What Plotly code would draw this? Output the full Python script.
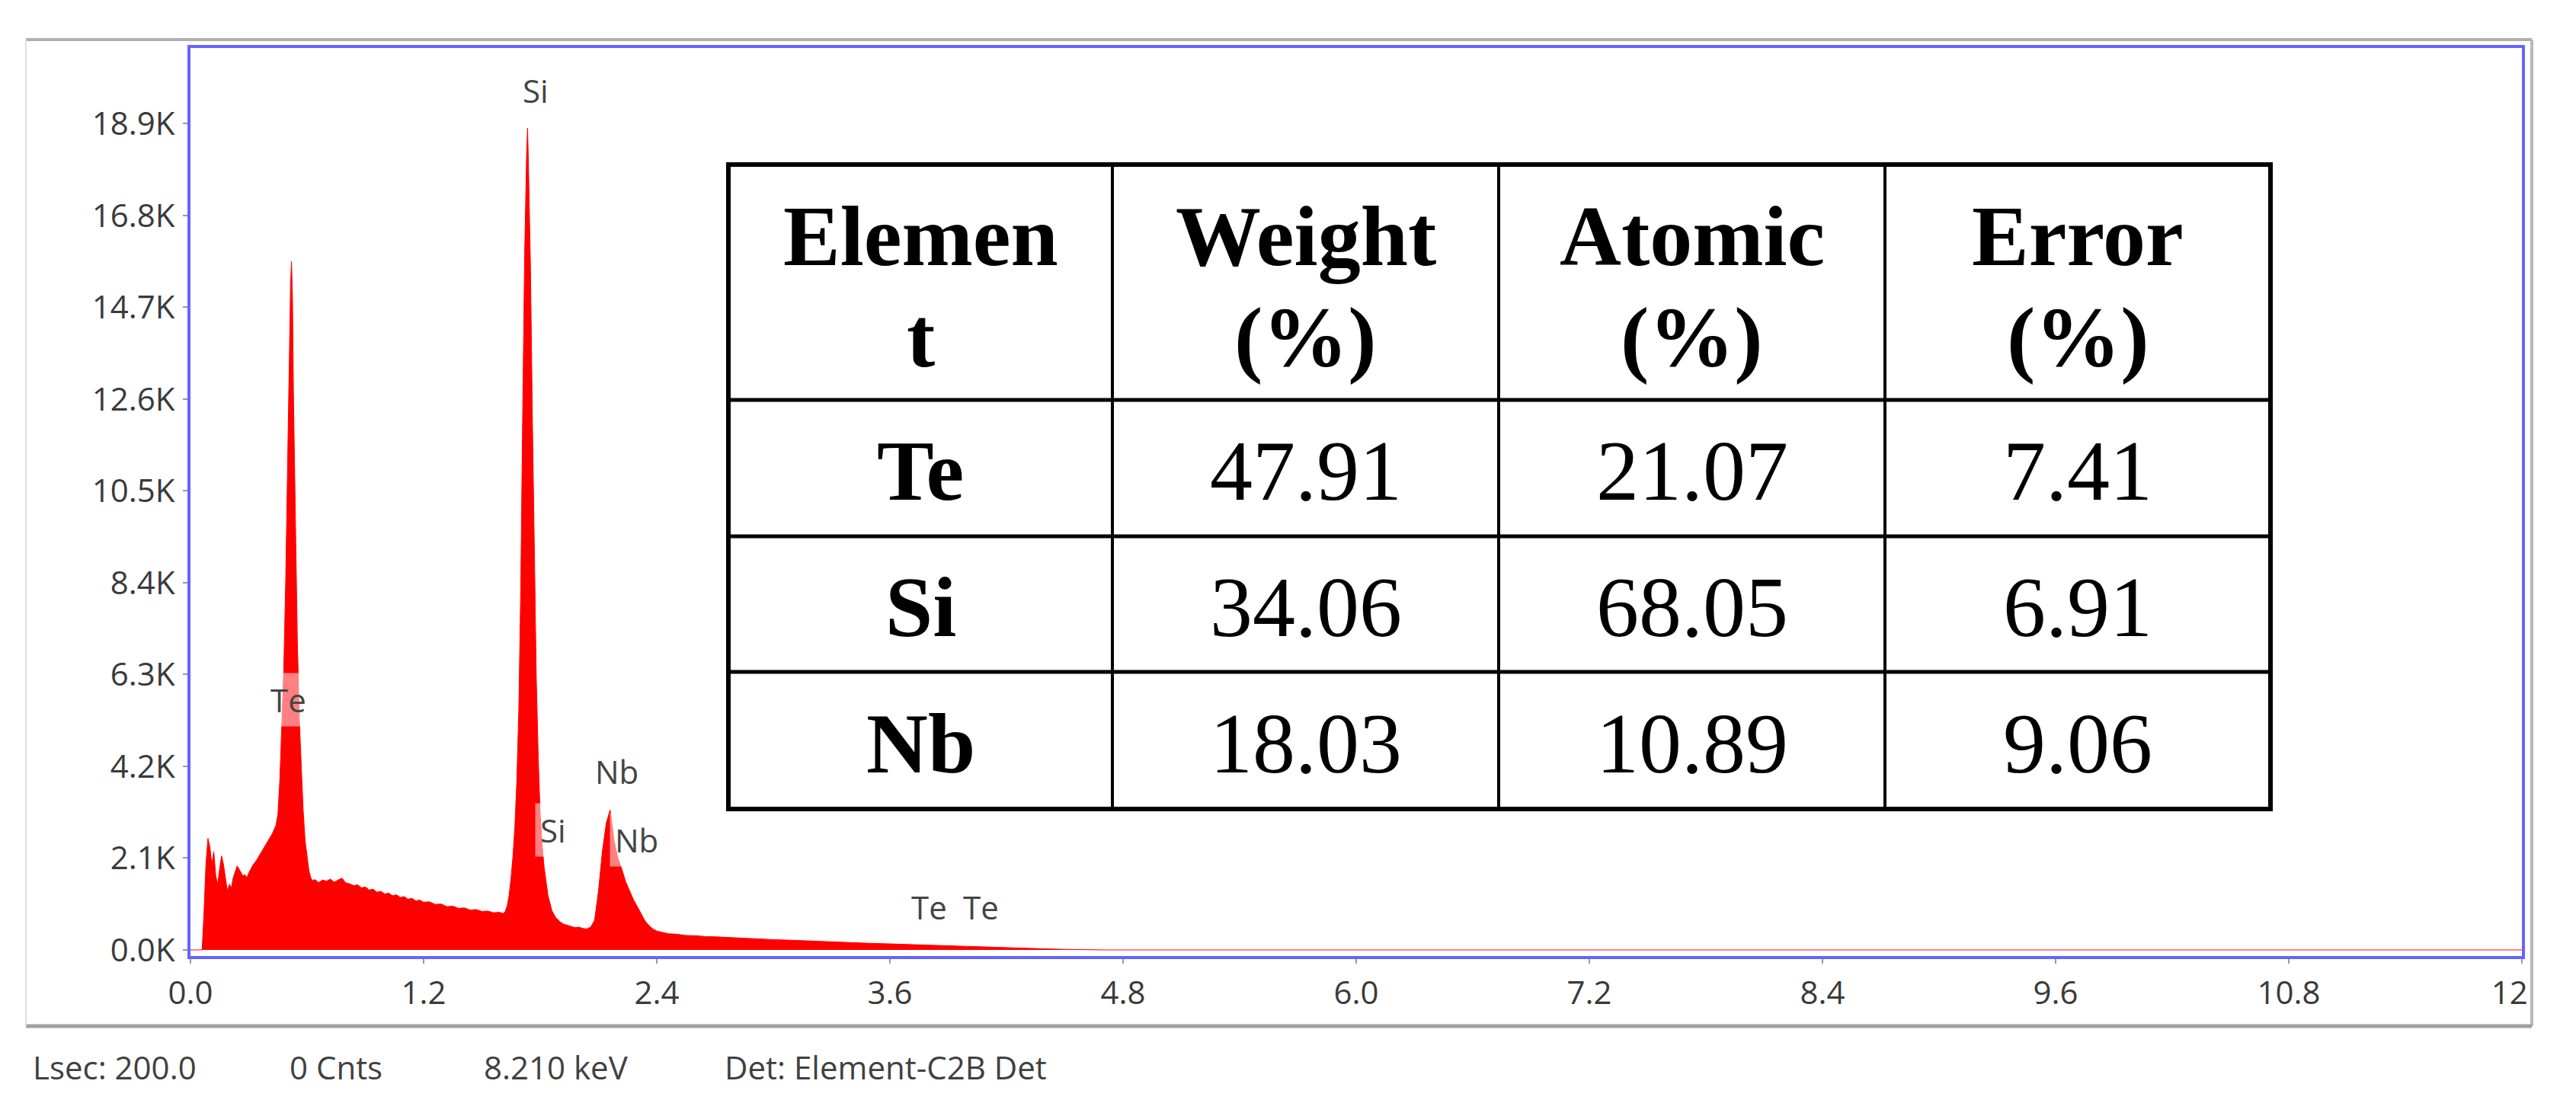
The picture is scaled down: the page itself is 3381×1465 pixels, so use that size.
import plotly.graph_objects as go

# ---------------- data ----------------
energy_kev = [0.00, 0.06, 0.07, 0.08, 0.09, 0.10, 0.11, 0.12, 0.13, 0.14, 0.15, 0.16, 0.17, 0.18, 0.19,
              0.20, 0.21, 0.22, 0.23, 0.24, 0.25, 0.26, 0.27, 0.28, 0.29, 0.30, 0.31, 0.32, 0.34, 0.36,
              0.38, 0.40, 0.42, 0.44, 0.45, 0.46, 0.47, 0.48, 0.49, 0.50, 0.51, 0.515, 0.52, 0.525, 0.53,
              0.54, 0.55, 0.56, 0.57, 0.58, 0.59, 0.60, 0.61, 0.62, 0.63, 0.64, 0.66, 0.68, 0.70, 0.72,
              0.74, 0.76, 0.78, 0.80, 0.82, 0.84, 0.86, 0.88, 0.90, 0.92, 0.94, 0.96, 0.98, 1.00, 1.02,
              1.04, 1.06, 1.08, 1.10, 1.12, 1.14, 1.16, 1.18, 1.20, 1.23, 1.26, 1.29, 1.32, 1.35, 1.38,
              1.41, 1.44, 1.47, 1.50, 1.53, 1.56, 1.59, 1.61, 1.62, 1.63, 1.64, 1.65, 1.66, 1.67, 1.68,
              1.69, 1.70, 1.71, 1.72, 1.73, 1.735, 1.74, 1.75, 1.76, 1.77, 1.78, 1.79, 1.80, 1.81, 1.82,
              1.84, 1.86, 1.88, 1.90, 1.92, 1.94, 1.96, 1.98, 2.00, 2.02, 2.04, 2.06, 2.08, 2.10, 2.12,
              2.14, 2.16, 2.18, 2.20, 2.22, 2.24, 2.26, 2.28, 2.30, 2.32, 2.34, 2.36, 2.38, 2.40, 2.43,
              2.46, 2.50, 2.55, 2.60, 2.65, 2.70, 2.80, 2.90, 3.00, 3.10, 3.20, 3.30, 3.40, 3.50, 3.60,
              3.70, 3.80, 3.90, 4.00, 4.10, 4.20, 4.30, 4.40, 4.50, 4.60, 4.70, 12.0]
counts = [0, 0, 900, 2000, 2550, 2350, 1950, 2250, 1700, 1500, 1850, 2150, 1950, 1600, 1350,
          1500, 1420, 1650, 1780, 1920, 1850, 1760, 1690, 1720, 1650, 1760, 1850, 1930, 2050, 2200,
          2350, 2500, 2650, 2850, 3100, 3900, 5100, 6400, 8400, 11200, 13900, 15200, 15750, 14900, 12700,
          9700, 7100, 5300, 4300, 3200, 2500, 2100, 1800, 1640, 1580, 1610, 1540, 1600, 1570, 1620,
          1550, 1600, 1640, 1530, 1510, 1470, 1490, 1420, 1440, 1370, 1390, 1320, 1340, 1280, 1300,
          1240, 1260, 1200, 1220, 1160, 1180, 1120, 1140, 1090, 1100, 1040, 1050, 990, 1000, 950,
          960, 910, 925, 880, 890, 850, 860, 830, 880, 1000, 1250, 1650, 2150, 2850, 3900,
          5500, 8300, 12300, 15900, 18200, 18800, 17900, 15600, 12100, 8800, 6200, 4400, 3100, 2400, 1900,
          1250, 900, 740, 650, 590, 560, 530, 510, 520, 490, 480, 520, 680, 1350, 2250,
          2900, 3200, 2500, 2100, 1850, 1560, 1340, 1150, 990, 820, 660, 560, 480, 430, 400,
          370, 360, 330, 325, 305, 300, 275, 260, 235, 220, 200, 185, 170, 150, 138,
          122, 108, 94, 80, 64, 50, 36, 24, 13, 5, 0, 0]

peak_names = ["Si", "Te", "Nb", "Si", "Nb", "Te", "Te"]
peak_kev = [1.776, 0.502, 2.196, 1.867, 2.298, 3.80, 4.07]
peak_label_counts = [19670, 5730, 4080, 2740, 2510, 990, 990]

x_tick_vals = [0, 1.2, 2.4, 3.6, 4.8, 6.0, 7.2, 8.4, 9.6, 10.8, 12]
x_tick_labels = ["0.0", "1.2", "2.4", "3.6", "4.8", "6.0", "7.2", "8.4", "9.6", "10.8", "12\u00a0\u00a0\u00a0"]
y_tick_vals = [0, 2100, 4200, 6300, 8400, 10500, 12600, 14700, 16800, 18900]
y_tick_labels = ["0.0K", "2.1K", "4.2K", "6.3K", "8.4K", "10.5K", "12.6K", "14.7K", "16.8K", "18.9K"]

header_line1 = ["Elemen", "Weight", "Atomic", "Error"]
header_line2 = ["t", "(%)", "(%)", "(%)"]
elements = ["Te", "Si", "Nb"]
weight_pct = [47.91, 34.06, 18.03]
atomic_pct = [21.07, 68.05, 10.89]
error_pct = [7.41, 6.91, 9.06]

status_items = ["Lsec: 200.0", "0 Cnts", "8.210 keV", "Det: Element-C2B Det"]

# ---------------- layout geometry (pixels) ----------------
W, H = 3381, 1465
PL, PR, PT, PB = 250, 3310, 63, 1255


def pxx(xp):
    return (xp - PL) / (PR - PL)


def pxy(yp):
    return (PB - yp) / (PB - PT)


fig = go.Figure()
fig.add_trace(go.Scatter(
    x=energy_kev, y=counts, mode="lines", fill="tozeroy",
    line=dict(color="#ff0000", width=1), fillcolor="#ff0000",
    hoverinfo="skip", showlegend=False))

annotations = []
tick_font = dict(family="Open Sans", size=42, color="#3a3a3a")

# peak labels
for name, xk, yc in zip(peak_names, peak_kev, peak_label_counts):
    annotations.append(dict(x=xk, y=yc, xref="x", yref="y", text=name, showarrow=False,
                            font=dict(family="Open Sans", size=42, color="#444444"),
                            bgcolor="rgba(255,255,255,0.5)", borderpad=6,
                            xanchor="center", yanchor="middle"))

# table
col_edges = [956, 1460, 1967, 2474, 2980]
row_edges = [216, 525, 704, 882, 1062]
col_centers = [(col_edges[i] + col_edges[i + 1]) / 2 for i in range(4)]
row_text_y = [618, 797, 976]
tfont = dict(family="Liberation Serif", size=112, color="#000000")

shapes = []
shapes.append(dict(type="rect", xref="paper", yref="paper",
                   x0=pxx(col_edges[0]), x1=pxx(col_edges[-1]),
                   y0=pxy(row_edges[0]), y1=pxy(row_edges[-1]),
                   line=dict(color="black", width=6), fillcolor="white", layer="above"))
for cx in col_edges[1:-1]:
    shapes.append(dict(type="line", xref="paper", yref="paper", x0=pxx(cx), x1=pxx(cx),
                       y0=pxy(row_edges[0]), y1=pxy(row_edges[-1]),
                       line=dict(color="black", width=4)))
for ry in row_edges[1:-1]:
    shapes.append(dict(type="line", xref="paper", yref="paper", x0=pxx(col_edges[0]), x1=pxx(col_edges[-1]),
                       y0=pxy(ry), y1=pxy(ry), line=dict(color="black", width=5)))

for i in range(4):
    annotations.append(dict(x=pxx(col_centers[i]), y=pxy(310), xref="paper", yref="paper",
                            text="<b>%s</b>" % header_line1[i], showarrow=False, font=tfont,
                            xanchor="center", yanchor="middle"))
    annotations.append(dict(x=pxx(col_centers[i]), y=pxy(443), xref="paper", yref="paper",
                            text="<b>%s</b>" % header_line2[i], showarrow=False, font=tfont,
                            xanchor="center", yanchor="middle"))

for r in range(3):
    row_vals = ["<b>%s</b>" % elements[r], "%.2f" % weight_pct[r], "%.2f" % atomic_pct[r], "%.2f" % error_pct[r]]
    for c in range(4):
        annotations.append(dict(x=pxx(col_centers[c]), y=pxy(row_text_y[r]), xref="paper", yref="paper",
                                text=row_vals[c], showarrow=False, font=tfont,
                                xanchor="center", yanchor="middle"))

# status bar text
status_x = [41, 378, 633, 949]
for t, sx in zip(status_items, status_x):
    annotations.append(dict(x=pxx(sx), y=pxy(1400), xref="paper", yref="paper", text=t,
                            showarrow=False, font=dict(family="Open Sans", size=42, color="#404040"),
                            xanchor="left", yanchor="middle"))

# outer grey frame
fx0, fx1, fy0, fy1 = pxx(34), pxx(3323), pxy(1347), pxy(52)
shapes.append(dict(type="line", xref="paper", yref="paper", x0=fx0, x1=fx1, y0=fy1, y1=fy1,
                   line=dict(color="#b0b0b0", width=4)))
shapes.append(dict(type="line", xref="paper", yref="paper", x0=fx1, x1=fx1, y0=fy0, y1=fy1,
                   line=dict(color="#b8b8b8", width=4)))
shapes.append(dict(type="line", xref="paper", yref="paper", x0=fx0, x1=fx1, y0=fy0, y1=fy0,
                   line=dict(color="#a0a0a0", width=5)))
shapes.append(dict(type="line", xref="paper", yref="paper", x0=fx0, x1=fx0, y0=fy0, y1=fy1,
                   line=dict(color="#e0e0e0", width=2)))

fig.update_layout(
    width=W, height=H, autosize=False,
    margin=dict(l=PL, r=W - PR, t=PT, b=H - PB, pad=0),
    paper_bgcolor="white", plot_bgcolor="white", showlegend=False,
    xaxis=dict(range=[0, 12], tickmode="array", tickvals=x_tick_vals, ticktext=x_tick_labels,
               showgrid=False, zeroline=False, showline=True, mirror=True,
               linecolor="#6464ff", linewidth=4, ticks="outside", ticklen=6,
               tickcolor="#9a9a9a", tickwidth=2, tickfont=tick_font, ticklabelstandoff=3),
    yaxis=dict(range=[-140, 20630], tickmode="array", tickvals=y_tick_vals, ticktext=y_tick_labels,
               showgrid=False, zeroline=False, showline=True, mirror=True,
               linecolor="#6464ff", linewidth=4, ticks="outside", ticklen=6,
               tickcolor="#9a9a9a", tickwidth=2, tickfont=tick_font, ticklabelstandoff=2),
    annotations=annotations, shapes=shapes,
)

fig.write_html("out.html", config={"displayModeBar": False},
               post_script="document.body.style.margin='0';document.body.style.overflow='hidden';")
